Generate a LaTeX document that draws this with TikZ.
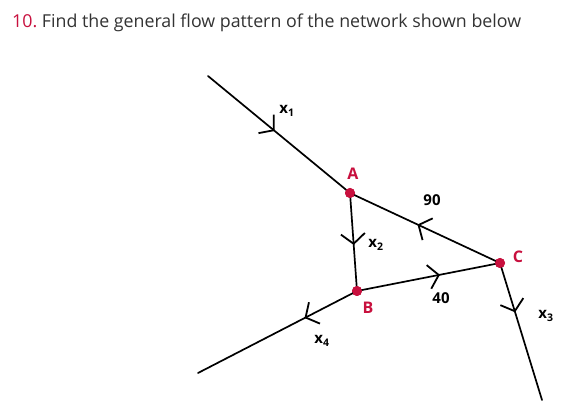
\documentclass[tikz,border=0pt]{standalone}
\usepackage{fontspec}
\setmainfont{Open Sans}
\newfontfamily\handfont{Open Sans}
\usetikzlibrary{arrows.meta,decorations.markings}
\definecolor{dotred}{HTML}{C8103E}
\definecolor{titlegray}{HTML}{333333}
\tikzset{
  flow/.style={draw=black, line width=1.7pt, line cap=round},
  midarrow/.style={postaction={decorate},
    decoration={markings, mark=at position #1 with {\arrow[line width=1.8pt]{Straight Barb[length=10pt,width=24pt]}}}},
  junction/.style={circle, fill=dotred, inner sep=0pt, minimum size=10pt},
  jlabel/.style={text=dotred, font=\handfont\fontsize{16}{16}\selectfont\bfseries},
  flabel/.style={text=black, font=\handfont\fontsize{15}{15}\selectfont\bfseries},
  endpt/.style={inner sep=0pt, minimum size=0pt}
}
\begin{document}
\begin{tikzpicture}[x=1pt,y=-1pt]
\useasboundingbox (0,0) rectangle (582,417);
\fill[white] (0,0) rectangle (582,417);
\node[anchor=west, inner sep=0pt, font=\fontsize{17.8}{18}\selectfont] (title) at (12,23)
  {\textcolor{dotred}{10.}\textcolor{titlegray}{\ Find the general flow pattern of the network shown below}};
\node[endpt] (s1) at (208,76) {};
\node[junction] (A) at (350,193) {};
\node[junction] (B) at (357,291) {};
\node[junction] (C) at (500,263) {};
\node[endpt] (e3) at (542,400) {};
\node[endpt] (e4) at (198,373) {};
\draw[flow, midarrow=0.47] (s1.center) -- (A.center);
\draw[flow, midarrow=0.53] (A.center) -- (B.center);
\draw[flow, midarrow=0.55] (C.center) -- (A.center);
\draw[flow, midarrow=0.58] (B.center) -- (C.center);
\draw[flow, midarrow=0.36] (C.center) -- (e3.center);
\draw[flow, midarrow=0.33] (B.center) -- (e4.center);
\node[junction] at (A) {};
\node[junction] at (B) {};
\node[junction] at (C) {};
\node[jlabel] (lA) at (353,174) {A};
\node[jlabel] (lB) at (368,308) {B};
\node[jlabel] (lC) at (518,257) {C};
\node[flabel] (l1) at (287,111) {x\textsubscript{1}};
\node[flabel] (l2) at (376,245) {x\textsubscript{2}};
\node[flabel] (l90) at (432,200) {90};
\node[flabel] (l40) at (441,298) {40};
\node[flabel] (l3) at (546,316) {x\textsubscript{3}};
\node[flabel] (l4) at (322,341) {x\textsubscript{4}};
\end{tikzpicture}
\end{document}
